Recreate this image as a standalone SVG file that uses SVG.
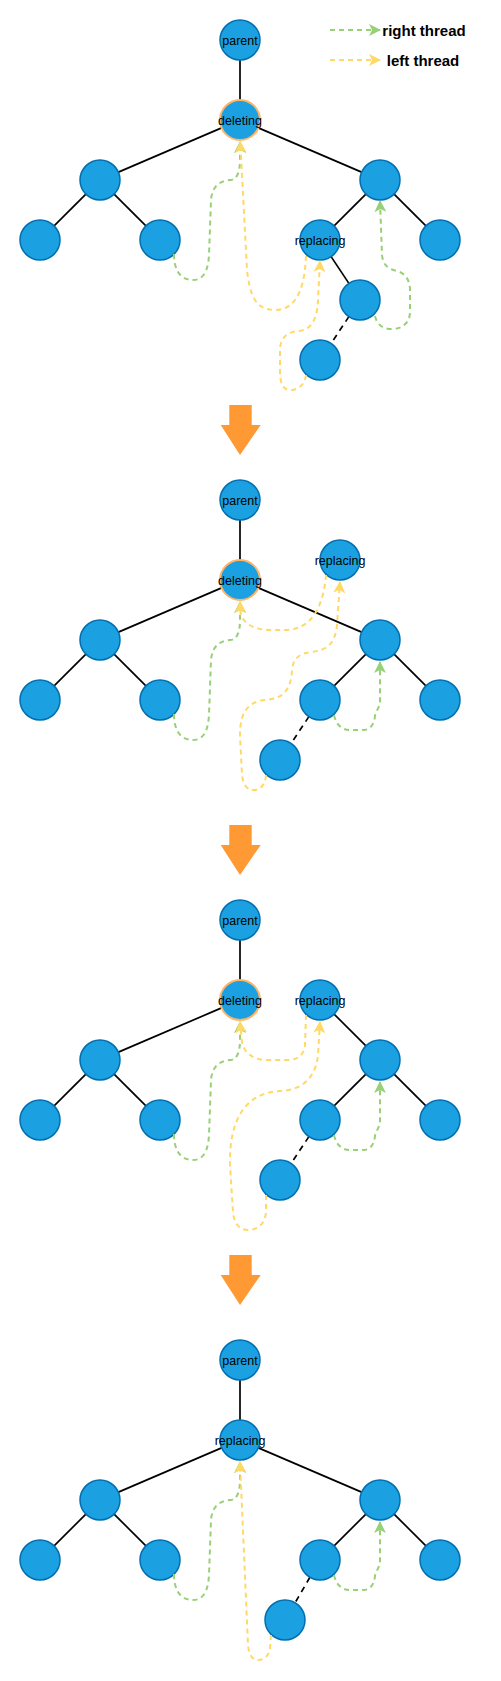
<svg xmlns="http://www.w3.org/2000/svg" width="501" height="1681" viewBox="0 0 501 1681">
<defs>
<style>
.n{fill:#1BA1E2;stroke:#006EAF;stroke-width:1.5}
.del{fill:#1BA1E2;stroke:#FFB366;stroke-width:2}
.e{stroke:#000;stroke-width:1.7;fill:none}
.ed{stroke:#000;stroke-width:1.7;fill:none;stroke-dasharray:6 5}
.g{stroke:#97D077;stroke-width:2;fill:none;stroke-dasharray:5 4;marker-end:url(#ag)}
.y{stroke:#FFD966;stroke-width:2;fill:none;stroke-dasharray:5 4;marker-end:url(#ay)}
.t{font-family:"Liberation Sans",Helvetica,Arial,sans-serif;font-size:12.5px;fill:#000;text-anchor:middle}
.lg{font-family:"Liberation Sans",Helvetica,Arial,sans-serif;font-size:15px;font-weight:bold;fill:#000;text-anchor:middle}
.ar{fill:#FF9933}
</style>
<marker id="ag" viewBox="0 0 12 12" refX="11" refY="6" markerWidth="12" markerHeight="12" markerUnits="userSpaceOnUse" orient="auto"><path d="M0,0 L12,6 L0,12 L3,6 z" fill="#97D077"/></marker>
<marker id="ay" viewBox="0 0 12 12" refX="11" refY="6" markerWidth="12" markerHeight="12" markerUnits="userSpaceOnUse" orient="auto"><path d="M0,0 L12,6 L0,12 L3,6 z" fill="#FFD966"/></marker>
</defs>
<rect width="501" height="1681" fill="#fff"/>

<g id="legend">
<path class="g" d="M330,30 L380,30"/>
<path class="y" d="M330,60 L380,60"/>
<text class="lg" x="424" y="35.5">right thread</text>
<text class="lg" x="423" y="65.5">left thread</text>
</g>

<g id="step-arrows">
<polygon class="ar" points="229.3,405 251.7,405 251.7,425 260.7,425 240,455 220.7,425 229.3,425"/>
<polygon class="ar" points="229.3,825 251.7,825 251.7,845 260.7,845 240,875 220.7,845 229.3,845"/>
<polygon class="ar" points="229.3,1255 251.7,1255 251.7,1275 260.7,1275 240,1305 220.7,1275 229.3,1275"/>
</g>

<g id="connectors">
<!-- panel 1 -->
<line class="e" x1="240" y1="60" x2="240" y2="100"/>
<line class="e" x1="221.6" y1="127.9" x2="118.4" y2="172.1"/>
<line class="e" x1="258.4" y1="127.9" x2="361.6" y2="172.1"/>
<line class="e" x1="85.9" y1="194.1" x2="54.1" y2="225.9"/>
<line class="e" x1="114.1" y1="194.1" x2="145.9" y2="225.9"/>
<line class="e" x1="365.9" y1="194.1" x2="334.1" y2="225.9"/>
<line class="e" x1="394.1" y1="194.1" x2="425.9" y2="225.9"/>
<line class="e" x1="331.1" y1="256.6" x2="348.9" y2="283.4"/>
<line class="ed" x1="348.9" y1="316.6" x2="331.1" y2="343.4"/>
<!-- panel 2 -->
<line class="e" x1="240" y1="520" x2="240" y2="560"/>
<line class="e" x1="221.6" y1="587.9" x2="118.4" y2="632.1"/>
<line class="e" x1="258.4" y1="587.9" x2="361.6" y2="632.1"/>
<line class="e" x1="85.9" y1="654.1" x2="54.1" y2="685.9"/>
<line class="e" x1="114.1" y1="654.1" x2="145.9" y2="685.9"/>
<line class="e" x1="365.9" y1="654.1" x2="334.1" y2="685.9"/>
<line class="e" x1="394.1" y1="654.1" x2="425.9" y2="685.9"/>
<line class="ed" x1="308.9" y1="716.6" x2="291.1" y2="743.4"/>
<!-- panel 3 -->
<line class="e" x1="240" y1="940" x2="240" y2="980"/>
<line class="e" x1="221.6" y1="1007.9" x2="118.4" y2="1052.1"/>
<line class="e" x1="334.1" y1="1014.1" x2="365.9" y2="1045.9"/>
<line class="e" x1="85.9" y1="1074.1" x2="54.1" y2="1105.9"/>
<line class="e" x1="114.1" y1="1074.1" x2="145.9" y2="1105.9"/>
<line class="e" x1="365.9" y1="1074.1" x2="334.1" y2="1105.9"/>
<line class="e" x1="394.1" y1="1074.1" x2="425.9" y2="1105.9"/>
<line class="ed" x1="308.9" y1="1136.6" x2="291.1" y2="1163.4"/>
<!-- panel 4 -->
<line class="e" x1="240" y1="1380" x2="240" y2="1420"/>
<line class="e" x1="221.6" y1="1447.9" x2="118.4" y2="1492.1"/>
<line class="e" x1="258.4" y1="1447.9" x2="361.6" y2="1492.1"/>
<line class="e" x1="85.9" y1="1514.1" x2="54.1" y2="1545.9"/>
<line class="e" x1="114.1" y1="1514.1" x2="145.9" y2="1545.9"/>
<line class="e" x1="365.9" y1="1514.1" x2="334.1" y2="1545.9"/>
<line class="e" x1="394.1" y1="1514.1" x2="425.9" y2="1545.9"/>
<line class="ed" x1="309.9" y1="1577.3" x2="295.1" y2="1602.7"/>
</g>

<g id="p1-parent"><circle class="n" cx="240" cy="40" r="20"/><text class="t" x="240" y="44.5">parent</text></g>
<g id="p1-deleting"><circle class="del" cx="240" cy="120" r="20"/><text class="t" x="240" y="124.5">deleting</text></g>
<g id="p1-l"><circle class="n" cx="100" cy="180" r="20"/></g>
<g id="p1-r"><circle class="n" cx="380" cy="180" r="20"/></g>
<g id="p1-ll"><circle class="n" cx="40" cy="240" r="20"/></g>
<g id="p1-lr"><circle class="n" cx="160" cy="240" r="20"/></g>
<g id="p1-replacing"><circle class="n" cx="320" cy="240" r="20"/><text class="t" x="320" y="244.5">replacing</text></g>
<g id="p1-rr"><circle class="n" cx="440" cy="240" r="20"/></g>
<g id="p1-c"><circle class="n" cx="360" cy="300" r="20"/></g>
<g id="p1-cl"><circle class="n" cx="320" cy="360" r="20"/></g>

<g id="p2-parent"><circle class="n" cx="240" cy="500" r="20"/><text class="t" x="240" y="504.5">parent</text></g>
<g id="p2-deleting"><circle class="del" cx="240" cy="580" r="20"/><text class="t" x="240" y="584.5">deleting</text></g>
<g id="p2-replacing"><circle class="n" cx="340" cy="560" r="20"/><text class="t" x="340" y="564.5">replacing</text></g>
<g id="p2-l"><circle class="n" cx="100" cy="640" r="20"/></g>
<g id="p2-r"><circle class="n" cx="380" cy="640" r="20"/></g>
<g id="p2-ll"><circle class="n" cx="40" cy="700" r="20"/></g>
<g id="p2-lr"><circle class="n" cx="160" cy="700" r="20"/></g>
<g id="p2-rl"><circle class="n" cx="320" cy="700" r="20"/></g>
<g id="p2-rr"><circle class="n" cx="440" cy="700" r="20"/></g>
<g id="p2-c"><circle class="n" cx="280" cy="760" r="20"/></g>

<g id="p3-parent"><circle class="n" cx="240" cy="920" r="20"/><text class="t" x="240" y="924.5">parent</text></g>
<g id="p3-deleting"><circle class="del" cx="240" cy="1000" r="20"/><text class="t" x="240" y="1004.5">deleting</text></g>
<g id="p3-replacing"><circle class="n" cx="320" cy="1000" r="20"/><text class="t" x="320" y="1004.5">replacing</text></g>
<g id="p3-l"><circle class="n" cx="100" cy="1060" r="20"/></g>
<g id="p3-r"><circle class="n" cx="380" cy="1060" r="20"/></g>
<g id="p3-ll"><circle class="n" cx="40" cy="1120" r="20"/></g>
<g id="p3-lr"><circle class="n" cx="160" cy="1120" r="20"/></g>
<g id="p3-rl"><circle class="n" cx="320" cy="1120" r="20"/></g>
<g id="p3-rr"><circle class="n" cx="440" cy="1120" r="20"/></g>
<g id="p3-c"><circle class="n" cx="280" cy="1180" r="20"/></g>

<g id="p4-parent"><circle class="n" cx="240" cy="1360" r="20"/><text class="t" x="240" y="1364.5">parent</text></g>
<g id="p4-replacing"><circle class="n" cx="240" cy="1440" r="20"/><text class="t" x="240" y="1444.5">replacing</text></g>
<g id="p4-l"><circle class="n" cx="100" cy="1500" r="20"/></g>
<g id="p4-r"><circle class="n" cx="380" cy="1500" r="20"/></g>
<g id="p4-ll"><circle class="n" cx="40" cy="1560" r="20"/></g>
<g id="p4-lr"><circle class="n" cx="160" cy="1560" r="20"/></g>
<g id="p4-rl"><circle class="n" cx="320" cy="1560" r="20"/></g>
<g id="p4-rr"><circle class="n" cx="440" cy="1560" r="20"/></g>
<g id="p4-c"><circle class="n" cx="285" cy="1620" r="20"/></g>

<g id="threads">
<!-- panel 1 -->
<path class="g" d="M174,254 C174,270 180,280 193,280 C203,280 208,272 209,255 L211,200 C212,188 218,181 230,180 C237,180 240,172 240,160 L240,142"/>
<path class="g" d="M375,316 C377,325 383,329 392,329 C403,329 410,322 410,312 L410,290 C410,280 405,273 397,271 C388,269 383,265 382,255 L380,201"/>
<path class="y" d="M306,256 C305,280 300,310 275,310 C255,310 250,295 247,270 L240.3,142"/>
<path class="y" d="M306,375 C305,385 298,390 290,390 C283,390 280,383 280,372 L280,350 C280,338 287,332 298,331 C310,330 317,322 318,300 L320,261"/>
<!-- panel 2 -->
<path class="g" transform="translate(0,460)" d="M174,254 C174,270 180,280 193,280 C203,280 208,272 209,255 L211,200 C212,188 218,181 230,180 C237,180 240,172 240,160 L240,142"/>
<path class="g" d="M334,715 C336,725 342,730 350,730 L363,730 C370,730 374,725 375,716 C376,710 380,708 380,700 L380,662"/>
<path class="y" d="M326,575 C324,600 315,630 285,630 L270,630 C252,630 242,622 240.5,612 L240,602"/>
<path class="y" d="M266,775 C265,786 260,790 253,790 C246,790 243,783 242,775 L240,735 C240,712 248,702 265,700 C283,699 291,690 292,670 C293,658 300,653 312,652 C326,650 335,645 337,625 L340,582"/>
<!-- panel 3 -->
<path class="g" transform="translate(0,880)" d="M174,254 C174,270 180,280 193,280 C203,280 208,272 209,255 L211,200 C212,188 218,181 230,180 C237,180 240,172 240,160 L240,142"/>
<path class="g" transform="translate(0,420)" d="M334,715 C336,725 342,730 350,730 L363,730 C370,730 374,725 375,716 C376,710 380,708 380,700 L380,662"/>
<path class="y" d="M306,1015 L305,1045 C304,1055 298,1060 287,1060 L267,1060 C253,1060 244,1053 242,1042 L240,1022"/>
<path class="y" d="M266,1195 L266,1212 C265,1224 258,1230 248,1230 C238,1230 234,1222 233,1212 L230,1165 C229,1120 245,1093 280,1091 C305,1090 316,1075 318,1055 L320,1022"/>
<!-- panel 4 -->
<path class="g" transform="translate(0,1320)" d="M174,254 C174,270 180,280 193,280 C203,280 208,272 209,255 L211,200 C212,188 218,181 230,180 C237,180 240,172 240,160 L240,142"/>
<path class="g" transform="translate(0,860)" d="M334,715 C336,725 342,730 350,730 L363,730 C370,730 374,725 375,716 C376,710 380,708 380,700 L380,662"/>
<path class="y" d="M271,1635 L270,1648 C269,1656 264,1660 258,1660 C252,1660 249,1655 248,1645 L240,1462"/>
</g>
</svg>
